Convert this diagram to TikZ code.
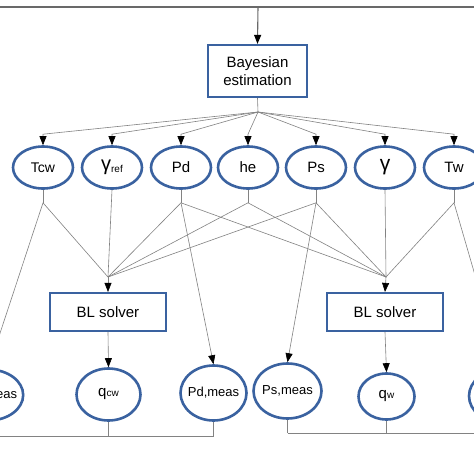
\documentclass[tikz,border=0pt]{standalone}
\usepackage{fontspec}
\setmainfont{Liberation Sans}
\usetikzlibrary{shapes.geometric,arrows.meta}
\definecolor{nodeblue}{RGB}{58,98,160}
\definecolor{linegray}{RGB}{130,130,130}
\definecolor{topgray}{RGB}{105,105,105}
\begin{document}
\begin{tikzpicture}[x=1pt,y=-1pt,
  param/.style={ellipse, draw=nodeblue, line width=2.6pt, inner sep=0pt, inner xsep=-4pt,
    minimum width=60pt, minimum height=42pt, font=\fontsize{15}{17}\selectfont, text=black},
  meas/.style={ellipse, draw=nodeblue, line width=2.6pt, inner sep=0pt, inner xsep=-4pt,
    font=\fontsize{13}{15}\selectfont, text=black},
  box/.style={rectangle, draw=nodeblue, line width=2.2pt, inner sep=0pt, align=center,
    font=\fontsize{15}{18}\selectfont, text=black},
  conn/.style={draw=linegray, line width=0.6pt},
  arr/.style={conn, -{Triangle[length=9pt,width=7pt,color=black]}},
  topline/.style={draw=topgray, line width=1.1pt},
  toparr/.style={topline, -{Triangle[length=9pt,width=7pt,color=black]}}
]
\useasboundingbox (0,0) rectangle (474,474);
\fill[white] (0,0) rectangle (474,474);
\clip (0,0) rectangle (474,474);

% top
\coordinate (tl) at (0,7);
\coordinate (tr) at (474,7);
\coordinate (top) at (258,7);
\node[box, minimum width=99pt, minimum height=52pt] (bayes) at (257.5,71) {Bayesian\\estimation};
\draw[topline] (tl) -- (tr);
\draw[toparr] (top) -- (bayes.north);

% parameters
\node[param] (tcw) at (43,167.5) {\fontsize{14}{16}\selectfont T\kern-1.5pt cw};
\node[param] (gref) at (112,167.5) {\raisebox{1.5pt}{\fontsize{20}{20}\selectfont γ}\fontsize{10}{10}\selectfont ref};
\node[param] (pd) at (181,167.5) {Pd};
\node[param] (he) at (248,167.5) {he};
\node[param] (ps) at (316,167.5) {Ps};
\node[param] (gam) at (385,167.5) {\raisebox{1.5pt}{\fontsize{21}{21}\selectfont γ}};
\node[param] (tw) at (454,167.5) {Tw};

\coordinate (fan) at (258,112);
\draw[conn] (bayes.south) -- (fan);
\foreach \p in {tcw,gref,pd,he,ps,gam,tw}{
  \draw[arr] (fan) -- ([yshift=11pt]\p.north) -- (\p.north);
}

% solvers
\node[box, minimum width=116pt, minimum height=38pt] (bl1) at (108,312) {BL solver};
\node[box, minimum width=116pt, minimum height=38pt] (bl2) at (385,312) {BL solver};
\coordinate (j1) at (108,277);
\coordinate (j2) at (386,277);
\draw[arr] (j1) -- (bl1.north);
\draw[arr] (j2) -- (bl2.north);

% bottom nodes
\node[meas, minimum width=66pt, minimum height=51pt] (tcwm) at (-11.5,395) {Tcw,meas};
\node[meas, minimum width=64pt, minimum height=52pt] (qcw) at (108.5,394.5) {\fontsize{15}{15}\selectfont q{\fontsize{10}{10}\selectfont cw}};
\node[meas, minimum width=66pt, minimum height=55pt] (pdm) at (213.5,393) {Pd,meas};
\node[meas, minimum width=68pt, minimum height=55pt] (psm) at (287.5,391) {Ps,meas};
\node[meas, minimum width=56pt, minimum height=46pt] (qw) at (386.5,396.5) {\fontsize{15}{15}\selectfont q{\fontsize{10}{10}\selectfont w}};
\node[meas, minimum width=66pt, minimum height=53pt] (twm) at (502,396) {Tw,meas};

% junctions below parameters
\foreach \p in {tcw,pd,he,ps,tw}{
  \coordinate (\p j) at ([yshift=-13pt]\p.south);
  \draw[conn] (\p.south) -- (\p j);
}
\draw[conn] (tcwj) -- (j1);
\draw[conn] (gref.south) -- (j1);
\draw[conn] (pdj) -- (j1);
\draw[conn] (hej) -- (j1);
\draw[conn] (psj) -- (j1);
\draw[conn] (pdj) -- (j2);
\draw[conn] (hej) -- (j2);
\draw[conn] (psj) -- (j2);
\draw[conn] (gam.south) -- (j2);
\draw[conn] (twj) -- (j2);
\draw[arr] (tcwj) -- (tcwm.north);
\draw[arr] (pdj) -- (pdm.north);
\draw[arr] (psj) -- (psm.north);
\draw[arr] (twj) -- (twm.north);

\draw[arr] (bl1.south) -- (qcw.north);
\draw[arr] (bl2.south) -- (qw.north);

% bottom collectors
\coordinate (bl) at (0,436);
\coordinate (bq1) at (108.5,436);
\coordinate (bp1) at (213.5,436);
\draw[conn] (qcw.south) -- (bq1);
\draw[conn] (pdm.south) -- (bp1);
\draw[conn] (bl) -- (bp1);
\coordinate (bp2) at (287.5,433);
\coordinate (bq2) at (386.5,433);
\coordinate (br) at (474,433);
\draw[conn] (psm.south) -- (bp2);
\draw[conn] (qw.south) -- (bq2);
\draw[conn] (bp2) -- (br);
\end{tikzpicture}
\end{document}
